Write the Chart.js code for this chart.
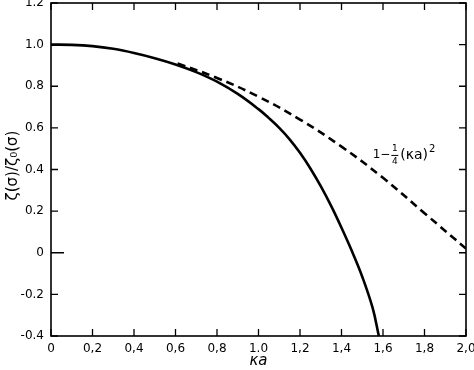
<!DOCTYPE html>
<html>
<head>
<meta charset="utf-8">
<script src="https://cdn.jsdelivr.net/npm/chart.js@4.4.1/dist/chart.umd.min.js"></script>
<style>
  html, body { margin: 0; padding: 0; background: #fff; }
</style>
</head>
<body>
<canvas id="zetaChart" width="474" height="370"></canvas>
<script>
// tick labels as printed on the figure
const xTickLabels = ['0', '0,2', '0,4', '0,6', '0,8', '1.0', '1,2', '1,4', '1,6', '1,8', '2,0'];
const yTickLabels = ['-0.4', '-0.2', '0', '0.2', '0.4', '0.6', '0.8', '1.0', '1.2'];

// solid curve
const exactKa    = [0, 0.1, 0.2, 0.3, 0.4, 0.5, 0.6, 0.7, 0.8, 0.9, 1.0, 1.05, 1.1, 1.15, 1.2, 1.25, 1.3, 1.35, 1.4, 1.45, 1.5, 1.55, 1.58];
const exactRatio = [1.0, 0.999, 0.993, 0.98, 0.96, 0.935, 0.905, 0.868, 0.822, 0.763, 0.69, 0.647, 0.60, 0.545, 0.48, 0.405, 0.32, 0.225, 0.12, 0.008, -0.115, -0.265, -0.40];

// dashed curve 1 - (ka)^2/4
const approxKa    = [0.61, 0.8, 1.0, 1.2, 1.4, 1.6, 1.8, 2.0];
const approxRatio = [0.91, 0.84, 0.75, 0.64, 0.51, 0.36, 0.19, 0.02];

const FONT = "'DejaVu Sans', sans-serif";

function toPoints(xs, ys) {
  return xs.map((x, i) => ({x: x, y: ys[i]}));
}

// frame, inward ticks, y title and curve label
const framePlugin = {
  id: 'frame',
  afterDraw(chart) {
    const ctx = chart.ctx;
    const a = chart.chartArea;
    const xs = chart.scales.x, ys = chart.scales.y;
    ctx.save();
    ctx.strokeStyle = '#000';
    ctx.lineWidth = 1.6;
    ctx.strokeRect(a.left, a.top, a.right - a.left, a.bottom - a.top);

    ctx.lineWidth = 1.3;
    xs.ticks.forEach(t => {
      const px = xs.getPixelForValue(t.value);
      ctx.beginPath();
      ctx.moveTo(px, a.bottom); ctx.lineTo(px, a.bottom - 7);
      ctx.moveTo(px, a.top); ctx.lineTo(px, a.top + 7);
      ctx.stroke();
    });
    ys.ticks.forEach(t => {
      const py = ys.getPixelForValue(t.value);
      const len = Math.abs(t.value) < 1e-9 ? 13 : 7;
      ctx.beginPath();
      ctx.moveTo(a.left, py); ctx.lineTo(a.left + len, py);
      ctx.moveTo(a.right, py); ctx.lineTo(a.right - 7, py);
      ctx.stroke();
    });

    // y axis title
    ctx.fillStyle = '#000';
    ctx.translate(13, (a.top + a.bottom) / 2 - 4);
    ctx.rotate(-Math.PI / 2);
    ctx.textAlign = 'center';
    ctx.textBaseline = 'middle';
    ctx.font = '15px ' + FONT;
    ctx.fillText('ζ(σ)/ζ\u2080(σ)', 0, 0);
    ctx.restore();

    // label of dashed curve
    ctx.save();
    ctx.fillStyle = '#000';
    ctx.strokeStyle = '#000';
    ctx.textBaseline = 'middle';
    let x = xs.getPixelForValue(1.55);
    const y = ys.getPixelForValue(0.47);
    ctx.font = '12px ' + FONT;
    ctx.fillText('1\u2212', x, y);
    x += ctx.measureText('1\u2212').width + 1;
    ctx.font = '9px ' + FONT;
    ctx.textAlign = 'center';
    ctx.fillText('1', x + 3.5, y - 6);
    ctx.fillText('4', x + 3.5, y + 7);
    ctx.lineWidth = 1;
    ctx.beginPath(); ctx.moveTo(x, y + 0.5); ctx.lineTo(x + 7, y + 0.5); ctx.stroke();
    x += 9;
    ctx.textAlign = 'left';
    ctx.font = '14px ' + FONT;
    ctx.fillText('(κa)', x, y);
    x += ctx.measureText('(κa)').width + 1;
    ctx.font = '10px ' + FONT;
    ctx.fillText('2', x, y - 6);
    ctx.restore();
  }
};

new Chart('zetaChart', {
  type: 'scatter',
  data: {
    datasets: [{
      data: toPoints(exactKa, exactRatio),
      showLine: true,
      borderColor: '#000',
      borderWidth: 2.6,
      pointRadius: 0,
      tension: 0.4
    }, {
      data: toPoints(approxKa, approxRatio),
      showLine: true,
      borderColor: '#000',
      borderWidth: 2.6,
      borderDash: [8, 5],
      pointRadius: 0,
      tension: 0.4
    }]
  },
  options: {
    responsive: false,
    animation: false,
    layout: { padding: { top: 3, right: 8, left: 0, bottom: 0 } },
    plugins: { legend: { display: false }, tooltip: { enabled: false } },
    scales: {
      x: {
        type: 'linear', min: 0, max: 2,
        grid: { display: false, drawTicks: false },
        border: { display: false },
        ticks: {
          stepSize: 0.2, padding: 6, color: '#000', maxRotation: 0,
          font: { family: FONT, size: 12 },
          callback: (v, i) => xTickLabels[i]
        },
        title: { display: true, text: 'κa', color: '#000', padding: { top: 0, bottom: 0 },
                 font: { family: FONT, size: 15, style: 'italic' } },
        afterFit: s => { s.height = 34; s.paddingLeft = 0; s.paddingRight = 0; }
      },
      y: {
        type: 'linear', min: -0.4, max: 1.2,
        grid: { display: false, drawTicks: false },
        border: { display: false },
        ticks: {
          stepSize: 0.2, padding: 7, color: '#000',
          font: { family: FONT, size: 12 },
          callback: (v, i) => yTickLabels[i]
        },
        afterFit: s => { s.width = 51; s.paddingTop = 0; s.paddingBottom = 0; }
      }
    }
  },
  plugins: [framePlugin]
});
</script>
</body>
</html>
